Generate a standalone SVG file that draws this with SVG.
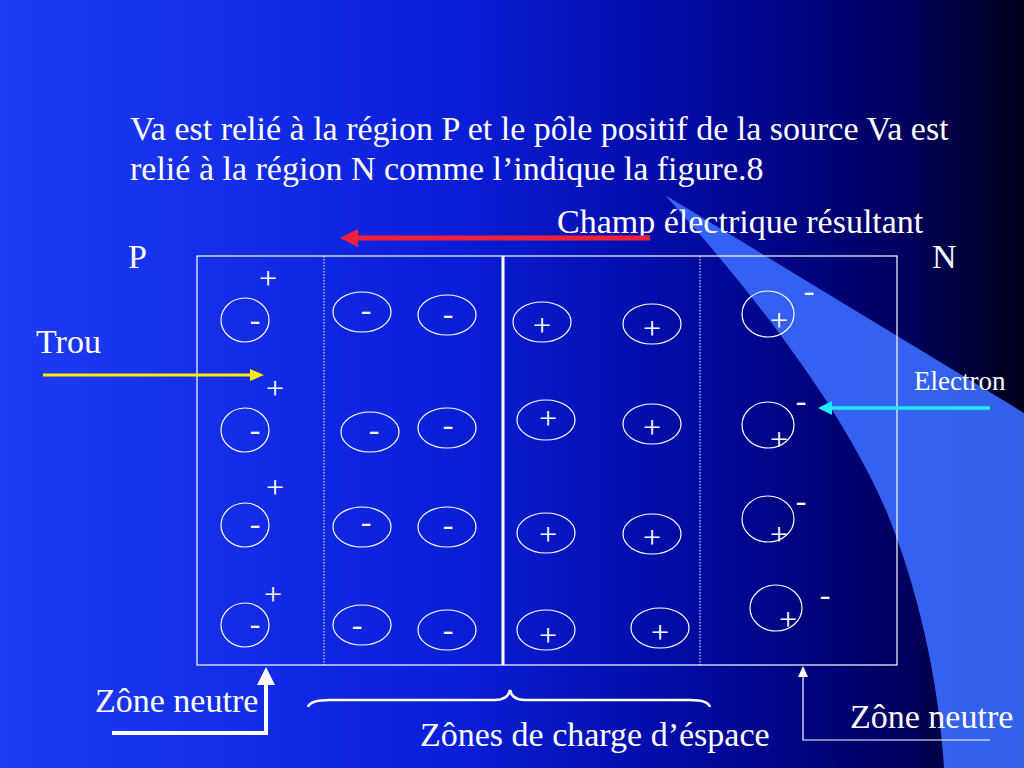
<svg xmlns="http://www.w3.org/2000/svg" width="1024" height="768" viewBox="0 0 1024 768">
<defs>
<linearGradient id="bg" x1="0" y1="0" x2="1" y2="0">
<stop offset="0" stop-color="#1e3cf5"/><stop offset="0.45" stop-color="#0a1ed8"/><stop offset="0.7" stop-color="#02089a"/><stop offset="0.88" stop-color="#000060"/><stop offset="1" stop-color="#00001a"/>
</linearGradient>
<style>
text{font-family:"Liberation Serif","Times New Roman",serif;fill:#fff}
.t{font-size:34px}.s{font-size:32px}.e{font-size:27px}
ellipse{fill:none;stroke:#fff;stroke-width:1.2}
</style>
</defs>
<rect width="1024" height="768" fill="url(#bg)"/>
<path d="M665,195 L1024,413 L1024,768 L944,768 C940,700 925,610 890,520 C850,420 760,300 665,195 z" fill="#3a6bff" opacity="0.9"/>
<text class="t" x="130" y="140">Va est relié à la région P et  le pôle positif de la source Va est</text>
<text class="t" x="130" y="180">relié à la région N comme l’indique la figure.8</text>
<text class="t" x="557" y="233">Champ électrique résultant</text>
<text class="t" x="128" y="268">P</text>
<text class="t" x="932" y="268">N</text>
<text class="t" x="36" y="353">Trou</text>
<text class="e" x="914" y="390">Electron</text>
<text class="t" x="95" y="712">Zône neutre</text>
<text class="t" x="850" y="728">Zône neutre</text>
<text class="t" x="420" y="746">Zônes de charge d’éspace</text>
<g id="junction" fill="none" stroke="#fff">
<rect x="197" y="256" width="700" height="409" stroke-width="1.2"/>
<line x1="324" y1="256" x2="324" y2="665" stroke-dasharray="1.5,1.5"/>
<line x1="700" y1="256" x2="700" y2="665" stroke-dasharray="1.5,1.5"/>
<line x1="503" y1="256" x2="503" y2="665" stroke-width="3"/>
</g>
<g id="ions">
<ellipse cx="245" cy="320" rx="24" ry="22"/><ellipse cx="245" cy="430" rx="24" ry="22"/><ellipse cx="245" cy="525" rx="24" ry="22"/><ellipse cx="245" cy="625" rx="24" ry="22"/>
<ellipse cx="362" cy="312" rx="29" ry="20"/><ellipse cx="447" cy="315" rx="29" ry="20"/>
<ellipse cx="370" cy="432" rx="29" ry="20"/><ellipse cx="447" cy="428" rx="29" ry="20"/>
<ellipse cx="362" cy="527" rx="29" ry="20"/><ellipse cx="447" cy="527" rx="29" ry="20"/>
<ellipse cx="362" cy="625" rx="29" ry="20"/><ellipse cx="447" cy="630" rx="29" ry="20"/>
<ellipse cx="542" cy="322" rx="29" ry="20"/><ellipse cx="652" cy="324" rx="29" ry="20"/>
<ellipse cx="546" cy="420" rx="29" ry="20"/><ellipse cx="652" cy="424" rx="29" ry="20"/>
<ellipse cx="546" cy="533" rx="29" ry="20"/><ellipse cx="652" cy="534" rx="29" ry="20"/>
<ellipse cx="546" cy="630" rx="29" ry="20"/><ellipse cx="660" cy="628" rx="29" ry="20"/>
<ellipse cx="768" cy="314" rx="26" ry="23"/><ellipse cx="768" cy="425" rx="26" ry="23"/><ellipse cx="768" cy="519" rx="26" ry="23"/><ellipse cx="776" cy="608" rx="26" ry="23"/>
</g>
<g id="charges" class="s" text-anchor="middle">
<text x="255" y="330">-</text><text x="255" y="440">-</text><text x="255" y="534">-</text><text x="255" y="634">-</text>
<text x="268" y="289">+</text><text x="275" y="399">+</text><text x="275" y="498">+</text><text x="273" y="605">+</text>
<text x="366" y="320">-</text><text x="448" y="324">-</text><text x="374" y="440">-</text><text x="448" y="435">-</text>
<text x="366" y="532">-</text><text x="448" y="535">-</text><text x="357" y="635">-</text><text x="448" y="640">-</text>
<text x="542" y="336">+</text><text x="652" y="339">+</text><text x="548" y="429">+</text><text x="652" y="438">+</text>
<text x="548" y="545">+</text><text x="652" y="548">+</text><text x="548" y="646">+</text><text x="660" y="643">+</text>
<text x="779" y="331">+</text><text x="779" y="450">+</text><text x="779" y="545">+</text><text x="788" y="630">+</text>
<text x="809" y="301">-</text><text x="801" y="411">-</text><text x="801" y="511">-</text><text x="825" y="605">-</text>
</g>
<g id="connectors" fill="none">
<line x1="650" y1="238" x2="350" y2="238" stroke="#f0203a" stroke-width="5"/>
<path d="M340,238 L358,229 L358,247 z" fill="#f0203a"/>
<line x1="43" y1="375" x2="255" y2="375" stroke="#ffee00" stroke-width="3"/>
<path d="M264,375 L250,369 L250,381 z" fill="#ffee00"/>
<line x1="990" y1="408" x2="828" y2="408" stroke="#22e8ff" stroke-width="3.5"/>
<path d="M818,408 L832,401 L832,415 z" fill="#22e8ff"/>
<polyline points="112,733 266,733 266,682" stroke="#fff" stroke-width="4"/>
<path d="M266,667 L257,685 L275,685 z" fill="#fff"/>
<polyline points="990,740 803,740 803,676" stroke="#fff" stroke-width="1.2"/>
<path d="M803,666 L798,677 L808,677 z" fill="#fff"/>
<path d="M308,707 Q310,700 330,700 L495,700 Q508,700 510,690 Q512,700 525,700 L690,700 Q708,700 710,707" stroke="#fff" stroke-width="2.5"/>
</g>
</svg>
